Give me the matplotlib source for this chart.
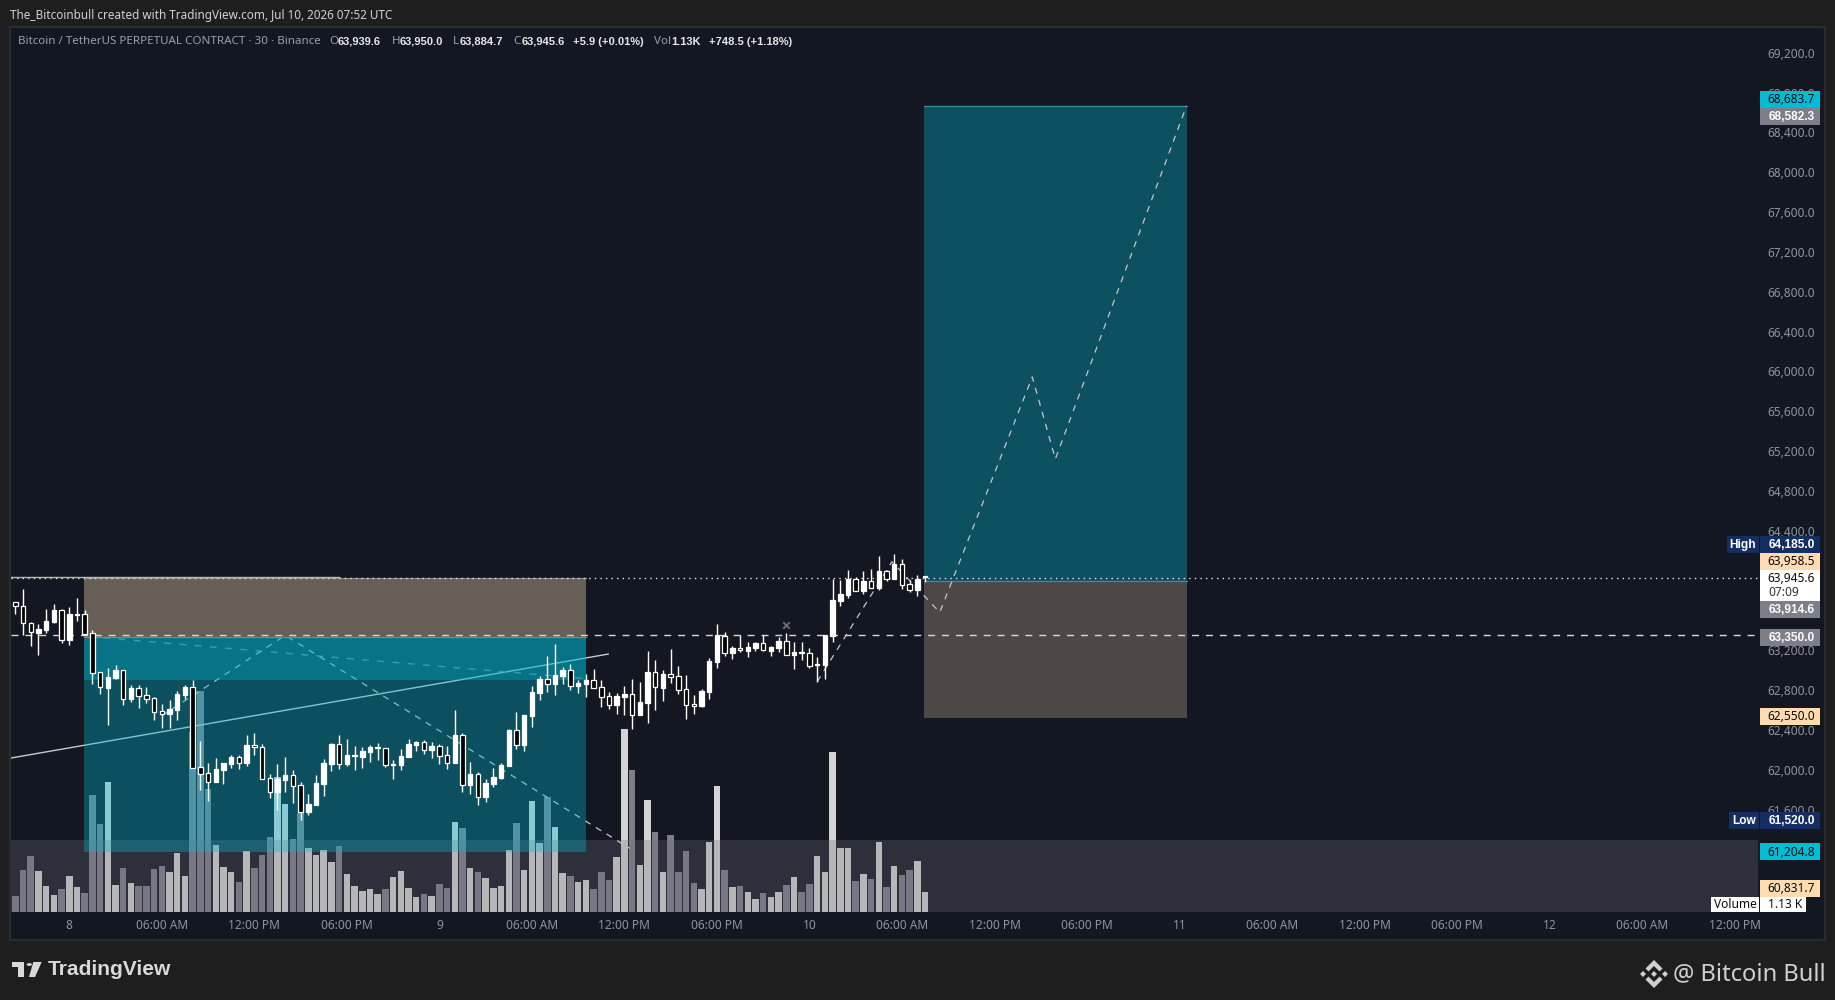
import matplotlib
matplotlib.use('Agg')
import matplotlib.pyplot as plt
from matplotlib.patches import Rectangle, Polygon, Circle

W, H = 1835, 1000
FONT = 'Noto Sans'
BOLD_FONT = 'Liberation Sans'
plt.rcParams['font.family'] = [FONT, 'DejaVu Sans']

# 30 minute candles
opens = [63681, 63641, 63470, 63377, 63403, 63484, 63604, 63303, 63554, 63561,
         63370, 62978, 62821, 62921, 62998, 62710, 62821, 62751, 62721, 62587,
         62560, 62600, 62751, 62828, 62024, 61964, 61877, 61998, 62058, 62128,
         62068, 62245, 62225, 61914, 61777, 61897, 61944, 61844, 61576, 61646,
         61857, 62058, 62255, 62058, 62138, 62128, 62178, 62218, 62215, 62048,
         62048, 62128, 62249, 62275, 62198, 62235, 62145, 62068, 62346, 61847,
         61954, 61726, 61857, 61917, 62038, 62396, 62249, 62540, 62771, 62908,
         62861, 62941, 62998, 62841, 62861, 62898, 62828, 62737, 62650, 62731,
         62757, 62550, 62670, 62978, 62821, 62962, 62938, 62808, 62660, 62640,
         62781, 63082, 63343, 63172, 63223, 63192, 63223, 63269, 63192, 63223,
         63290, 63152, 63182, 63169, 63052, 63052, 63343, 63695, 63755, 63912,
         63795, 63892, 63825, 63992, 63915, 64063, 63862, 63805, 63939.6]
closes = [63641, 63470, 63380, 63413, 63494, 63604, 63306, 63564, 63564, 63366,
          62975, 62828, 62931, 63002, 62714, 62821, 62741, 62714, 62583, 62563,
          62610, 62761, 62831, 62021, 61957, 61880, 62008, 62068, 62128, 62071,
          62249, 62225, 61911, 61780, 61907, 61947, 61840, 61576, 61656, 61867,
          62068, 62259, 62061, 62148, 62148, 62188, 62229, 62229, 62048, 62058,
          62138, 62259, 62279, 62198, 62239, 62141, 62071, 62349, 61850, 61957,
          61730, 61867, 61927, 62048, 62399, 62252, 62550, 62781, 62911, 62864,
          62951, 63002, 62844, 62871, 62901, 62824, 62734, 62654, 62741, 62761,
          62553, 62680, 62982, 62828, 62962, 62935, 62804, 62654, 62644, 62791,
          63092, 63353, 63172, 63223, 63199, 63233, 63273, 63199, 63233, 63293,
          63156, 63182, 63172, 63045, 63062, 63353, 63705, 63765, 63915, 63798,
          63895, 63828, 63996, 63919, 64066, 63859, 63808, 63915, 63945.6]
highs = [63681, 63815, 63484, 63464, 63614, 63664, 63614, 63634, 63725, 63604,
         63403, 62978, 63022, 63052, 63002, 62851, 62851, 62831, 62731, 62660,
         62700, 62791, 62851, 62901, 62289, 62068, 62118, 62068, 62148, 62148,
         62349, 62369, 62259, 61957, 62058, 62128, 61998, 61877, 61757, 61947,
         62108, 62269, 62349, 62309, 62239, 62229, 62249, 62269, 62218, 62098,
         62208, 62309, 62289, 62299, 62279, 62259, 62239, 62600, 62369, 62078,
         61977, 61907, 62018, 62068, 62409, 62580, 62550, 62841, 62941, 63142,
         63263, 63032, 63062, 62901, 62962, 63012, 62901, 62781, 62771, 62841,
         62911, 62881, 63192, 63102, 63002, 63213, 63042, 62951, 62751, 62811,
         63122, 63464, 63383, 63243, 63353, 63283, 63283, 63353, 63243, 63333,
         63373, 63283, 63283, 63223, 63132, 63353, 63915, 63905, 64006, 63935,
         63996, 64016, 64146, 64006, 64166, 64116, 63905, 63956, 63950]
lows = [63564, 63350, 63243, 63152, 63373, 63470, 63273, 63253, 63494, 63350,
        62861, 62761, 62449, 62908, 62650, 62680, 62620, 62667, 62500, 62419,
        62419, 62500, 62710, 62021, 61797, 61686, 61877, 61857, 62018, 62008,
        62038, 62148, 61911, 61716, 61596, 61777, 61666, 61496, 61546, 61646,
        61737, 61988, 62008, 62038, 61998, 62018, 62078, 62098, 62028, 61907,
        61998, 62128, 62188, 62158, 62118, 62058, 62008, 62068, 61777, 61757,
        61646, 61676, 61827, 61907, 62038, 62208, 62188, 62429, 62700, 62781,
        62751, 62861, 62801, 62771, 62731, 62821, 62630, 62610, 62560, 62550,
        62409, 62550, 62470, 62600, 62690, 62871, 62761, 62510, 62560, 62630,
        62710, 63022, 63142, 63112, 63182, 63132, 63192, 63192, 63142, 63182,
        63152, 63012, 63102, 63022, 62881, 62911, 63283, 63644, 63725, 63795,
        63765, 63825, 63805, 63895, 63915, 63815, 63785, 63745, 63884.7]
# volume in K
volumes = [0.90, 2.39, 3.20, 2.34, 1.48, 0.96, 1.30, 2.05, 1.42, 1.07,
           6.70, 5.04, 7.45, 1.53, 2.51, 1.65, 1.48, 1.48, 2.45, 2.62,
           2.28, 3.37, 2.05, 10.33, 12.68, 7.05, 3.83, 2.57, 2.28, 1.70,
           3.49, 2.51, 3.26, 4.29, 7.74, 6.19, 4.18, 5.67, 3.66, 3.26,
           3.54, 2.85, 3.77, 2.16, 1.48, 1.19, 1.30, 1.02, 1.30, 1.99,
           2.34, 1.36, 0.84, 1.02, 0.90, 1.59, 1.36, 5.15, 4.81, 2.51,
           2.28, 1.93, 1.36, 1.48, 3.54, 5.10, 2.39, 6.36, 3.95, 6.59,
           4.87, 2.22, 2.05, 1.70, 1.82, 1.30, 2.28, 1.82, 3.14, 10.50,
           8.14, 2.68, 6.42, 4.58, 2.28, 4.41, 2.28, 3.49, 1.65, 1.30,
           4.00, 7.22, 2.39, 1.42, 1.48, 1.13, 0.73, 1.07, 0.84, 1.13,
           1.53, 1.99, 1.13, 1.59, 3.20, 2.28, 9.18, 3.66, 3.66, 1.76,
           2.16, 1.88, 4.00, 1.42, 2.62, 2.11, 2.39, 2.91, 1.13]

# 64,000 and 63,600 are covered by the price tags in the picture
price_ticks = [61600, 62000, 62400, 62800, 63200, 64400, 64800, 65200, 65600, 66000, 66400,
               66800, 67200, 67600, 68000, 68400, 68800, 69200]
time_tick_bars = [7, 19, 31, 43, 55, 67, 79, 91, 103, 115, 127, 139, 151, 163, 175, 187, 199, 211, 223]
time_tick_labels = ['8', '06:00 AM', '12:00 PM', '06:00 PM', '9', '06:00 AM', '12:00 PM', '06:00 PM',
                    '10', '06:00 AM', '12:00 PM', '06:00 PM', '11', '06:00 AM', '12:00 PM', '06:00 PM',
                    '12', '06:00 AM', '12:00 PM']

# drawings on the chart (bar number, price)
trend_bars = [-0.6, 76.9]
trend_prices = [62118, 63162]
grey_dash_bars = [11.4, 73.6]
grey_dash_prices = [63326, 62918]
short_path_bars = [19, 35, 79.7]
short_path_prices = [62543, 63350, 61211]
long_path_bars = [104, 113.7, 119.9, 131.9, 134.9, 151.9]
long_path_prices = [62885, 64089, 63581, 65944, 65121, 68665]

left_box_bars = [8.9, 74.0]
left_stop = [63330, 63925]
left_target = [61175, 63330]
left_overlap = [62901, 63330]
right_box_bars = [117.85, 152.0]
right_target = [63892, 68665]
right_stop = [62523, 63892]

BG = '#1e1e1e'
PANEL = '#131722'
LIGHT = '#d4d4d4'
DARK = '#7c7e8a'
CYAN = '#00bcd4'
NAVY = '#142e61'
PEACH = '#ffdcb0'
TICK = '#8f939c'


def fx(x):
    return x / W


def fy(y):
    return 1 - y / H


def add_box(x0, y0, x1, y1, color):
    fig.add_artist(Rectangle((fx(x0), fy(y1)), (x1 - x0) / W, (y1 - y0) / H, transform=fig.transFigure,
                             facecolor=color, edgecolor='none', zorder=5))


def add_poly(points, color):
    pts = [(fx(x), fy(y)) for x, y in points]
    fig.add_artist(Polygon(pts, closed=True, transform=fig.transFigure, facecolor=color,
                           edgecolor='none', zorder=5))


def price_tag(text, y0, y1, bg, fg, x0=1760, x1=1820, bold=False, tx=1815):
    add_box(x0, y0, x1, y1, bg)
    fig.text(fx(tx), fy((y0 + y1) / 2 + 0.5), text, color=fg, fontsize=8.6, ha='right',
             va='center', family=BOLD_FONT if bold else FONT, fontweight='bold' if bold else 'normal', zorder=6)


def side_tag(text, y0, y1, bg, fg, x0, bold=False):
    add_box(x0, y0, 1759, y1, bg)
    fig.text(fx((x0 + 1759) / 2), fy((y0 + y1) / 2 + 0.5), text, color=fg, fontsize=8.6,
             ha='center', va='center', family=BOLD_FONT if bold else FONT,
             fontweight='bold' if bold else 'normal', zorder=6)


fig = plt.figure(figsize=(W / 100, H / 100), dpi=100, facecolor=BG)
fig.add_artist(Rectangle((fx(10), fy(940)), 1815 / W, 913 / H, transform=fig.transFigure, facecolor=PANEL,
                         edgecolor='#2a2c33', linewidth=1.6, zorder=-5))

axes_rect = [fx(11), fy(912), 1747 / W, 885 / H]
vol_ax = fig.add_axes(axes_rect, zorder=1)
ax = fig.add_axes(axes_rect, zorder=2)
xlim = (-0.56, 226.03)
for a in (ax, vol_ax):
    a.set_xlim(*xlim)
    a.patch.set_visible(False)
    for s in a.spines.values():
        s.set_visible(False)
ax.set_ylim(60572.5, 69458)
vol_ax.set_ylim(0, 50.86)
vol_ax.set_xticks([])
vol_ax.set_yticks([])

bars = list(range(len(opens)))
up = [c >= o for o, c in zip(opens, closes)]

# volume bars then the grey band laid over them
vol_ax.bar(bars, volumes, width=0.84, color=[LIGHT if u else DARK for u in up], zorder=2)
vol_ax.axhspan(0, 4.14, color='#6f6c78', alpha=0.285, linewidth=0, zorder=3)

# trend line and dashed paths sit under the position boxes
ax.plot(trend_bars, trend_prices, color='#c9c9cc', lw=1.0, zorder=1)
ax.plot(grey_dash_bars, grey_dash_prices, color='#7d7a7a', lw=1.0, ls=(0, (5, 6)), zorder=1)
ax.plot(short_path_bars, short_path_prices, color='#c4c7cc', lw=0.9, ls=(0, (5, 5)), zorder=1)
ax.plot(long_path_bars, long_path_prices, color='#c4c7cc', lw=0.9, ls=(0, (5, 5)), zorder=3.5)

# position boxes
ax.fill_between(left_box_bars, left_stop[0], left_stop[1], color='#675f55', lw=0, zorder=2)
ax.fill_between(left_box_bars, left_target[0], left_target[1], color=CYAN, alpha=0.35, lw=0, zorder=2)
ax.fill_between(left_box_bars, left_overlap[0], left_overlap[1], color=CYAN, alpha=0.33, lw=0, zorder=2)
ax.fill_between(right_box_bars, right_stop[0], right_stop[1], color='#4d4845', lw=0, zorder=2)
ax.fill_between(right_box_bars, right_target[0], right_target[1], color='#0d505f', lw=0, zorder=2)
ax.plot(left_box_bars, [left_stop[1]] * 2, color='#8a8580', lw=0.9, zorder=2.5)
ax.plot(left_box_bars, [left_stop[0]] * 2, color='#8a8580', lw=0.9, zorder=2.5)
ax.plot(right_box_bars, [right_target[0]] * 2, color='#3f8c9a', lw=0.9, zorder=2.5)
ax.plot(right_box_bars, [right_target[1]] * 2, color='#3f8c9a', lw=0.9, zorder=2.5)

# reference lines
ax.axhline(63922, color='#e8e8e8', lw=1.0, ls=(0, (1, 3)), zorder=3)
ax.axhline(63350, color='#d8d8d8', lw=1.0, ls=(0, (5, 5)), zorder=3)
ax.plot([-0.56, 42], [63940, 63940], color='#b8b8b8', lw=1.0, zorder=3)
ax.scatter([100], [63457], marker='x', s=22, color='#6a6c75', linewidths=1.4, zorder=3)

# candles
ax.vlines(bars, lows, highs, color='white', lw=1.0, zorder=4)
ax.bar(bars, [abs(c - o) for o, c in zip(opens, closes)], bottom=[min(o, c) for o, c in zip(opens, closes)],
       width=0.58, color=['white' if u else 'black' for u in up], edgecolor='white', linewidth=0.9, zorder=5)

# axes
ax.yaxis.tick_right()
ax.set_yticks(price_ticks)
ax.set_yticklabels([f'{p:,.1f}' for p in price_ticks])
ax.tick_params(axis='y', length=0, pad=7, labelsize=8.6, labelcolor=TICK)
ax.set_xticks(time_tick_bars)
ax.set_xticklabels(time_tick_labels)
ax.tick_params(axis='x', length=0, pad=4.8, labelsize=8.6, labelcolor=TICK)

# price tags on the scale
price_tag('68,683.7', 91, 107.7, CYAN, '#0a0a0a')
price_tag('68,582.3', 107.7, 125, DARK, 'white', bold=True)
side_tag('High', 536, 552.7, NAVY, 'white', 1727, bold=True)
price_tag('64,185.0', 536, 552.7, NAVY, 'white', bold=True)
price_tag('63,958.5', 552.7, 570, PEACH, '#0a0a0a')
add_box(1760, 570, 1820, 600.7, 'white')
fig.text(fx(1815), fy(578), '63,945.6', color='#0a0a0a', fontsize=8.6, ha='right', va='center', zorder=6)
fig.text(fx(1768), fy(592), '07:09', color='#333333', fontsize=8.6, ha='left', va='center', zorder=6)
price_tag('63,914.6', 600.7, 618, DARK, 'white', bold=True)
price_tag('63,350.0', 629, 646, DARK, 'white', bold=True)
price_tag('62,550.0', 708, 725, PEACH, '#0a0a0a')
side_tag('Low', 812, 829, NAVY, 'white', 1729, bold=True)
price_tag('61,520.0', 812, 829, NAVY, 'white', bold=True)
price_tag('61,204.8', 843, 860, CYAN, '#0a0a0a')
price_tag('60,831.7', 880, 897, PEACH, '#0a0a0a')
side_tag('Volume', 897, 912, 'white', '#0a0a0a', 1711)
price_tag('1.13 K', 897, 912, 'white', '#0a0a0a', x1=1806, tx=1802)

# header and legend
fig.text(fx(10), fy(15.5), 'The_Bitcoinbull created with TradingView.com, Jul 10, 2026 07:52 UTC',
         color='#d0d0d0', fontsize=8.45, va='center')
legend = [(18, 'Bitcoin / TetherUS PERPETUAL CONTRACT · 30 · Binance', False),
          (329, 'O', False), (337.5, '63,939.6', True), (392, 'H', False), (400, '63,950.0', True),
          (453, 'L', False), (460, '63,884.7', True), (513, 'C', False), (521.5, '63,945.6', True),
          (573, '+5.9 (+0.01%)', True), (654, 'Vol', False), (671.5, '1.13K', True),
          (709, '+748.5 (+1.18%)', True)]
for x, text, strong in legend:
    fig.text(fx(x), fy(42), text, color='#e6e6e6' if strong else '#9a9ea8', fontsize=8.0 if strong else 8.35,
             va='center', family=BOLD_FONT if strong else FONT, fontweight='bold' if strong else 'normal', zorder=6)

# footer logos
LOGO = '#d9d9d9'
add_poly([(12, 962), (24, 962), (24, 977), (18, 977), (18, 967), (12, 967)], LOGO)
fig.add_artist(Circle((fx(29.3), fy(964.5)), 2.6 / W, transform=fig.transFigure, facecolor=LOGO,
                      edgecolor='none', zorder=5))
add_poly([(33.3, 962), (41.7, 962), (35, 977), (29, 977)], LOGO)
fig.text(fx(48), fy(969.5), 'TradingView', color=LOGO, fontsize=15.1, family=BOLD_FONT, fontweight='bold', va='center')

cx, cy = 1654, 974
for dx in (-11, 0, 11):
    add_poly([(cx + dx - 3, cy), (cx + dx, cy - 3), (cx + dx + 3, cy), (cx + dx, cy + 3)], '#d0d0d0')
for sign in (-1, 1):
    add_poly([(cx, cy + sign * 14), (cx + 8.5, cy + sign * 5.5), (cx + 5.5, cy + sign * 2.5), (cx, cy + sign * 8),
              (cx - 5.5, cy + sign * 2.5), (cx - 8.5, cy + sign * 5.5)], '#d0d0d0')
fig.text(fx(1826), fy(974), '@ Bitcoin Bull', color='#d0d0d0', fontsize=17.1, ha='right', va='center')

fig.savefig('out.png', dpi=100, facecolor=BG)
